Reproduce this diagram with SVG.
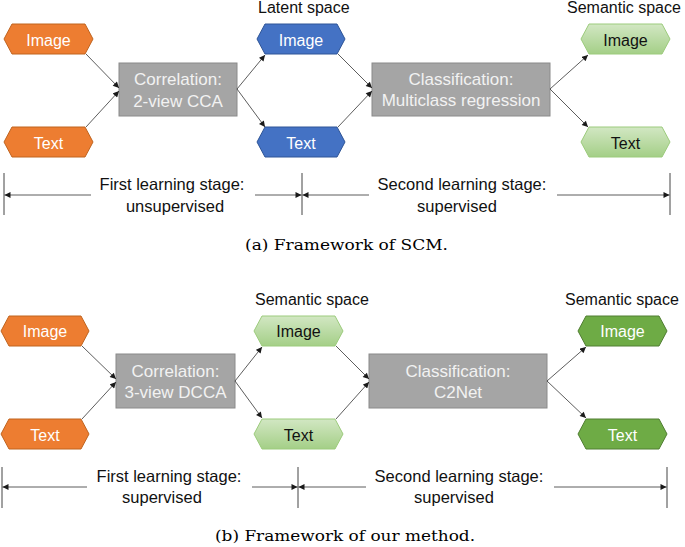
<svg xmlns="http://www.w3.org/2000/svg" width="685" height="547" viewBox="0 0 685 547">
<defs>
<marker id="ah" viewBox="0 0 10 10" refX="10" refY="5" markerWidth="7" markerHeight="6" markerUnits="userSpaceOnUse" orient="auto">
<path d="M0,0 L10,5 L0,10 z" fill="#1a1a1a"/>
</marker>
<linearGradient id="lg" x1="0" y1="0" x2="0" y2="1">
<stop offset="0" stop-color="#d2e7c3"/>
<stop offset="1" stop-color="#a4cf87"/>
</linearGradient>
<style>
.hex{stroke-width:1}
.or{fill:#ed7d31;stroke:#c0641f}
.bl{fill:#4472c4;stroke:#2f5597}
.lgn{fill:url(#lg);stroke:#9ccb7c}
.dg{fill:#6eab45;stroke:#507e32}
.box{fill:#a5a5a5;stroke:#8a8a8a;stroke-width:1}
.lbl{font-family:"Liberation Sans",Arial,sans-serif;font-size:16px;text-anchor:middle}
.w{fill:#ffffff}
.k{fill:#111111}
.bt{font-family:"Liberation Sans",Arial,sans-serif;font-size:17px;text-anchor:middle;fill:#f2f2f2}
.sp{font-family:"Liberation Sans",Arial,sans-serif;font-size:16px;fill:#111111}
.st{font-family:"Liberation Sans",Arial,sans-serif;font-size:16.5px;text-anchor:middle;fill:#111111}
.cap{font-family:"DejaVu Serif","Liberation Serif",serif;font-size:15px;text-anchor:middle;fill:#000000}
.c{fill:none;stroke:#333333;stroke-width:0.8;marker-end:url(#ah)}
.tick{stroke:#444444;stroke-width:1}
</style>
</defs>

<!-- (a) -->
<text class="sp" x="258" y="13">Latent space</text>
<text class="sp" x="567" y="13">Semantic space</text>

<g id="a-img-in"><polygon class="hex or" points="4,39 12,24 85,24 93,39 85,54 12,54"/><text class="lbl w" x="48.5" y="46">Image</text></g>
<g id="a-txt-in"><polygon class="hex or" points="4,142 12,127 85,127 93,142 85,157 12,157"/><text class="lbl w" x="48.5" y="149">Text</text></g>
<g id="a-corr"><rect class="box" x="119" y="63" width="118" height="53"/><text class="bt" x="178" y="85">Correlation:</text><text class="bt" x="178" y="107">2-view CCA</text></g>
<g id="a-img-lat"><polygon class="hex bl" points="257,39 265,24 337,24 345,39 337,54 265,54"/><text class="lbl w" x="301" y="46">Image</text></g>
<g id="a-txt-lat"><polygon class="hex bl" points="257,142 265,127 337,127 345,142 337,157 265,157"/><text class="lbl w" x="301" y="149">Text</text></g>
<g id="a-class"><rect class="box" x="372" y="63" width="178" height="53"/><text class="bt" x="461" y="85">Classification:</text><text class="bt" x="461" y="106">Multiclass regression</text></g>
<g id="a-img-sem"><polygon class="hex lgn" points="581,39 589,24 662,24 670,39 662,54 589,54"/><text class="lbl k" x="625.5" y="46">Image</text></g>
<g id="a-txt-sem"><polygon class="hex lgn" points="581,142 589,127 662,127 670,142 662,157 589,157"/><text class="lbl k" x="625.5" y="149">Text</text></g>

<g id="a-stage1"><text class="st" x="172" y="190">First learning stage:</text><text class="st" x="175" y="212">unsupervised</text></g>
<g id="a-stage2"><text class="st" x="462" y="190">Second learning stage:</text><text class="st" x="457" y="212">supervised</text></g>

<text class="cap" x="346.5" y="250" textLength="203" lengthAdjust="spacingAndGlyphs">(a) Framework of SCM.</text>

<!-- (b) -->
<text class="sp" x="255" y="305">Semantic space</text>
<text class="sp" x="565" y="305">Semantic space</text>

<g id="b-img-in"><polygon class="hex or" points="1,331 9,316 81,316 89,331 81,346 9,346"/><text class="lbl w" x="45" y="337">Image</text></g>
<g id="b-txt-in"><polygon class="hex or" points="1,434 9,419 81,419 89,434 81,449 9,449"/><text class="lbl w" x="45" y="441">Text</text></g>
<g id="b-corr"><rect class="box" x="116" y="354" width="119" height="54"/><text class="bt" x="175.5" y="377">Correlation:</text><text class="bt" x="175.5" y="398">3-view DCCA</text></g>
<g id="b-img-sem"><polygon class="hex lgn" points="254,331 262,316 335,316 343,331 335,346 262,346"/><text class="lbl k" x="298.5" y="337">Image</text></g>
<g id="b-txt-sem"><polygon class="hex lgn" points="254,434 262,419 335,419 343,434 335,449 262,449"/><text class="lbl k" x="298.5" y="441">Text</text></g>
<g id="b-class"><rect class="box" x="369" y="354" width="178" height="54"/><text class="bt" x="458" y="377">Classification:</text><text class="bt" x="458" y="398">C2Net</text></g>
<g id="b-img-out"><polygon class="hex dg" points="578,331 586,316 659,316 667,331 659,346 586,346"/><text class="lbl w" x="622.5" y="337">Image</text></g>
<g id="b-txt-out"><polygon class="hex dg" points="578,434 586,419 659,419 667,434 659,449 586,449"/><text class="lbl w" x="622.5" y="441">Text</text></g>

<g id="b-stage1"><text class="st" x="169" y="482">First learning stage:</text><text class="st" x="162" y="503">supervised</text></g>
<g id="b-stage2"><text class="st" x="459" y="482">Second learning stage:</text><text class="st" x="454" y="503">supervised</text></g>

<text class="cap" x="345" y="541" textLength="260" lengthAdjust="spacingAndGlyphs">(b) Framework of our method.</text>

<g id="connectors">
<line class="c" x1="86" y1="54" x2="119" y2="88"/>
<line class="c" x1="86" y1="127" x2="119" y2="91"/>
<line class="c" x1="237" y1="89" x2="265" y2="55"/>
<line class="c" x1="237" y1="89" x2="265" y2="127"/>
<line class="c" x1="338" y1="54" x2="372" y2="88"/>
<line class="c" x1="338" y1="127" x2="372" y2="91"/>
<line class="c" x1="550" y1="89" x2="588" y2="55"/>
<line class="c" x1="550" y1="89" x2="588" y2="127"/>

<line class="c" x1="82" y1="346" x2="116" y2="379"/>
<line class="c" x1="82" y1="419" x2="116" y2="382"/>
<line class="c" x1="235" y1="381" x2="262" y2="347"/>
<line class="c" x1="235" y1="381" x2="262" y2="418"/>
<line class="c" x1="336" y1="346" x2="369" y2="379"/>
<line class="c" x1="336" y1="419" x2="369" y2="382"/>
<line class="c" x1="547" y1="381" x2="586" y2="347"/>
<line class="c" x1="547" y1="381" x2="586" y2="418"/>

<line class="tick" x1="4" y1="173" x2="4" y2="215"/>
<line class="tick" x1="302" y1="173" x2="302" y2="215"/>
<line class="tick" x1="670" y1="173" x2="670" y2="215"/>
<line class="c" x1="91" y1="195" x2="4.5" y2="195"/>
<line class="c" x1="255" y1="195" x2="301.5" y2="195"/>
<line class="c" x1="369" y1="195" x2="302.5" y2="195"/>
<line class="c" x1="557" y1="195" x2="669.5" y2="195"/>

<line class="tick" x1="2" y1="467" x2="2" y2="508"/>
<line class="tick" x1="298" y1="467" x2="298" y2="508"/>
<line class="tick" x1="667" y1="467" x2="667" y2="508"/>
<line class="c" x1="87" y1="487" x2="2.5" y2="487"/>
<line class="c" x1="252" y1="487" x2="297.5" y2="487"/>
<line class="c" x1="366" y1="487" x2="298.5" y2="487"/>
<line class="c" x1="554" y1="487" x2="666.5" y2="487"/>
</g>
</svg>
